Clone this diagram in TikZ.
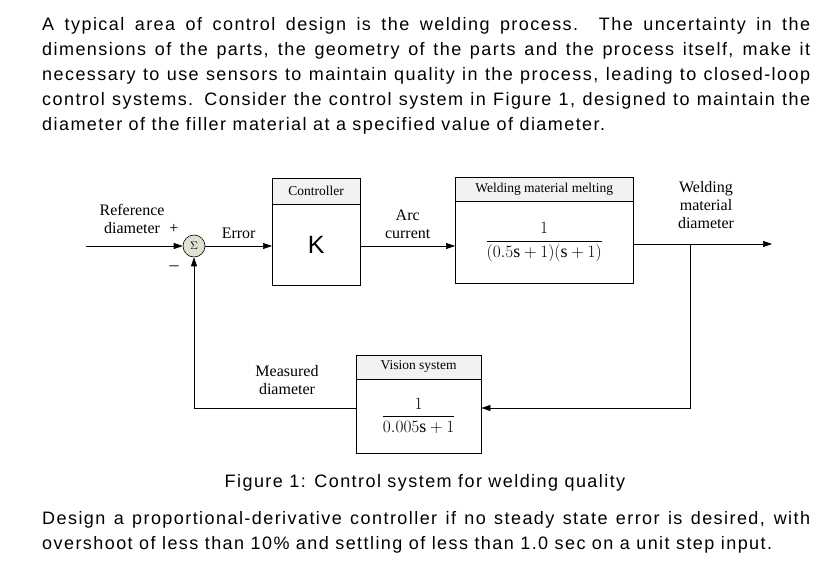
\documentclass[tikz,border=0pt]{standalone}
\usepackage{amsmath}
\usepackage{fontspec}
\setmainfont{Liberation Serif}
\newfontfamily\arial[LetterSpace=8]{Liberation Sans}
\usetikzlibrary{arrows.meta}
\begin{document}
\begin{tikzpicture}[x=1pt,y=-1pt,
  lbl/.style={font=\fontsize{16}{18}\selectfont,align=center},
  hd/.style={draw,fill=gray!10,font=\fontsize{13.5}{15}\selectfont,inner sep=0pt},
  blk/.style={draw,inner sep=0pt},
  arr/.style={-{Triangle[length=9pt,width=6pt]},line width=0.7pt},
  tf/.style={font=\fontsize{18}{22}\selectfont},
  ptext/.style={font=\arial\fontsize{18}{25}\selectfont,align=justify,text width=768pt,inner sep=0pt,anchor=north west}]
\useasboundingbox (0,0) rectangle (824,565);
\node[ptext] (p1) at (42,17) {A typical area of control design is the welding process. The uncertainty in the\linebreak dimensions of the parts, the geometry of the parts and the process itself, make it\linebreak necessary to use sensors to maintain quality in the process, leading to closed-loop\linebreak control systems. Consider the control system in Figure 1, designed to maintain the\linebreak diameter of the filler material at a specified value of diameter.};
% summing junction
\node[draw,circle,fill={rgb,255:red,222;green,226;blue,208},minimum size=22pt,inner sep=0pt,font=\fontsize{11}{12}\selectfont,line width=0.6pt] (sum) at (194,246) {$\Sigma$};
\coordinate (in) at (86,246);
\draw[arr] (in) -- (sum);
\node[lbl,anchor=east] (ref) at (168,219) {Reference\\diameter};
\node[lbl] (plus) at (174,229) {+};
\node[font=\fontsize{18}{18}\selectfont] (minus) at (174,268) {--};
% controller
\node[blk,minimum width=88pt,minimum height=81pt,anchor=north west] (ctrl) at (272,204) {};
\node[hd,minimum width=88pt,minimum height=26pt,anchor=south west] (ctrlh) at (ctrl.north west) {Controller};
\node[font=\fontsize{25}{25}\selectfont\sffamily] (K) at (ctrl.center) {\arial K};
\draw[arr] (sum) -- (ctrl.west |- sum) node[lbl,midway,above=4pt] (err) {Error};
% welding
\node[blk,minimum width=178pt,minimum height=82pt,anchor=north west] (weld) at (455,201) {};
\node[hd,minimum width=178pt,minimum height=24pt,anchor=south west] (weldh) at (weld.north west) {Welding material melting};
\node[tf] (tf1) at (weld.center) {$\dfrac{1}{(0.5\mathrm{s}+1)(\mathrm{s}+1)}$};
\draw[arr] (ctrl.east |- sum) -- (weld.west |- sum) node[lbl,midway,above=4pt] (arc) {Arc\\current};
\coordinate (out) at (772,244);
\coordinate (br) at (690,244);
\draw[arr] (weld.east |- out) -- (out);
\node[lbl] (wmd) at (706,205) {Welding\\material\\diameter};
% vision
\node[blk,minimum width=125pt,minimum height=74pt,anchor=north west] (vis) at (356,379) {};
\node[hd,minimum width=125pt,minimum height=24pt,anchor=south west] (vish) at (vis.north west) {Vision system};
\node[tf] (tf2) at (vis.center) {$\dfrac{1}{0.005\mathrm{s}+1}$};
\draw[arr] (br) |- (vis.east |- 0,408);
\draw[arr] (vis.west |- 0,408) -| (sum.south);
\node[lbl] (meas) at (287,380) {Measured\\diameter};
\node[font=\arial\fontsize{18}{20}\selectfont] (cap) at (425,483) {Figure 1: Control system for welding quality};
\node[ptext] (p2) at (42,511) {Design a proportional-derivative controller if no steady state error is desired, with\linebreak overshoot of less than 10\% and settling of less than 1.0 sec on a unit step input.};
\end{tikzpicture}
\end{document}
